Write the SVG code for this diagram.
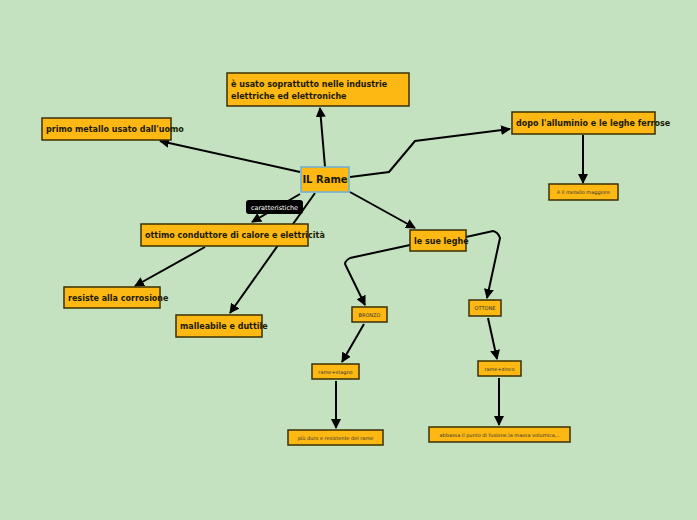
<svg xmlns="http://www.w3.org/2000/svg" width="697" height="520" viewBox="0 0 697 520">
<style>
.n{fill:#fdb813;stroke:#3b3000;stroke-width:1.5}
.t{font-family:"DejaVu Sans",sans-serif;font-weight:bold;font-size:8px;fill:#1a1a00}
.s{font-family:"DejaVu Sans",sans-serif;font-size:5px;fill:#333}
.c{fill:none;stroke:#000;stroke-width:2}
</style>
<defs><marker id="a" viewBox="0 0 10 10" refX="9" refY="5" markerWidth="5" markerHeight="5" orient="auto"><path d="M0,0L10,5L0,10z" fill="#000"/></marker></defs>
<rect width="697" height="520" fill="#c4e2bf"/>
<g id="connectors">
<path class="c" d="M325,167L320,108" marker-end="url(#a)"/>
<path class="c" d="M300,172L160,141" marker-end="url(#a)"/>
<path class="c" d="M350,177L389,172L415,141L510,129" marker-end="url(#a)"/>
<path class="c" d="M583,135L583,183" marker-end="url(#a)"/>
<path class="c" d="M300,194L252,222" marker-end="url(#a)"/>
<path class="c" d="M205,247L135,286" marker-end="url(#a)"/>
<path class="c" d="M315,193L230,313" marker-end="url(#a)"/>
<path class="c" d="M350,192L415,228" marker-end="url(#a)"/>
<path class="c" d="M410,245L350,258Q343,262 346,266L365,305" marker-end="url(#a)"/>
<path class="c" d="M466,237L493,231Q498,232 500,238L487,298" marker-end="url(#a)"/>
<path class="c" d="M364,324L342,362" marker-end="url(#a)"/>
<path class="c" d="M336,381L336,428" marker-end="url(#a)"/>
<path class="c" d="M488,318L497,359" marker-end="url(#a)"/>
<path class="c" d="M499,378L499,425" marker-end="url(#a)"/>
</g>
<g id="label"><rect x="246" y="200" width="57" height="14" rx="3" fill="#000"/><text x="274.5" y="209.5" text-anchor="middle" font-family="DejaVu Sans,sans-serif" font-size="6.5" fill="#fff">caratteristiche</text></g>
<g id="rame"><rect x="301" y="167" width="48" height="25" fill="#fdb813" stroke="#6ab0d8" stroke-width="1.5"/><text x="325" y="183" text-anchor="middle" font-family="DejaVu Sans,sans-serif" font-weight="bold" font-size="10" fill="#1a1a00">IL Rame</text></g>
<g id="top"><rect class="n" x="227" y="73" width="182" height="33"/><text class="t" x="231" y="87">è usato soprattutto nelle industrie</text><text class="t" x="231" y="99">elettriche ed elettroniche</text></g>
<g id="primo"><rect class="n" x="42" y="118" width="129" height="22"/><text class="t" x="46" y="132">primo metallo usato dall'uomo</text></g>
<g id="dopo"><rect class="n" x="512" y="112" width="143" height="22"/><text class="t" x="516" y="126">dopo l'alluminio e le leghe ferrose</text></g>
<g id="maggiore"><rect class="n" x="549" y="184" width="69" height="16"/><text class="s" x="583.5" y="194" text-anchor="middle">è il metallo maggiore</text></g>
<g id="ottimo"><rect class="n" x="141" y="224" width="167" height="22"/><text class="t" x="145" y="238">ottimo conduttore di calore e elettricità</text></g>
<g id="leghe"><rect class="n" x="410" y="230" width="56" height="21"/><text class="t" x="414" y="244">le sue leghe</text></g>
<g id="resiste"><rect class="n" x="64" y="287" width="96" height="21"/><text class="t" x="68" y="301">resiste alla corrosione</text></g>
<g id="malleabile"><rect class="n" x="176" y="315" width="86" height="22"/><text class="t" x="180" y="329">malleabile e duttile</text></g>
<g id="bronzo"><rect class="n" x="352" y="307" width="35" height="15"/><text class="s" x="369.5" y="316.5" text-anchor="middle">BRONZO</text></g>
<g id="ottone"><rect class="n" x="469" y="300" width="32" height="16"/><text class="s" x="485" y="310" text-anchor="middle">OTTONE</text></g>
<g id="stagno"><rect class="n" x="312" y="364" width="47" height="15"/><text class="s" x="335.5" y="373.5" text-anchor="middle">rame+stagno</text></g>
<g id="zinco"><rect class="n" x="478" y="361" width="43" height="15"/><text class="s" x="499.5" y="370.5" text-anchor="middle">rame+zinco</text></g>
<g id="duro"><rect class="n" x="288" y="430" width="95" height="15"/><text class="s" x="335.5" y="439.5" text-anchor="middle">più duro e resistente del rame</text></g>
<g id="abbassa"><rect class="n" x="429" y="427" width="141" height="15"/><text class="s" x="499.5" y="436.5" text-anchor="middle">abbassa il punto di fusione,la massa volumica,..</text></g>
</svg>
